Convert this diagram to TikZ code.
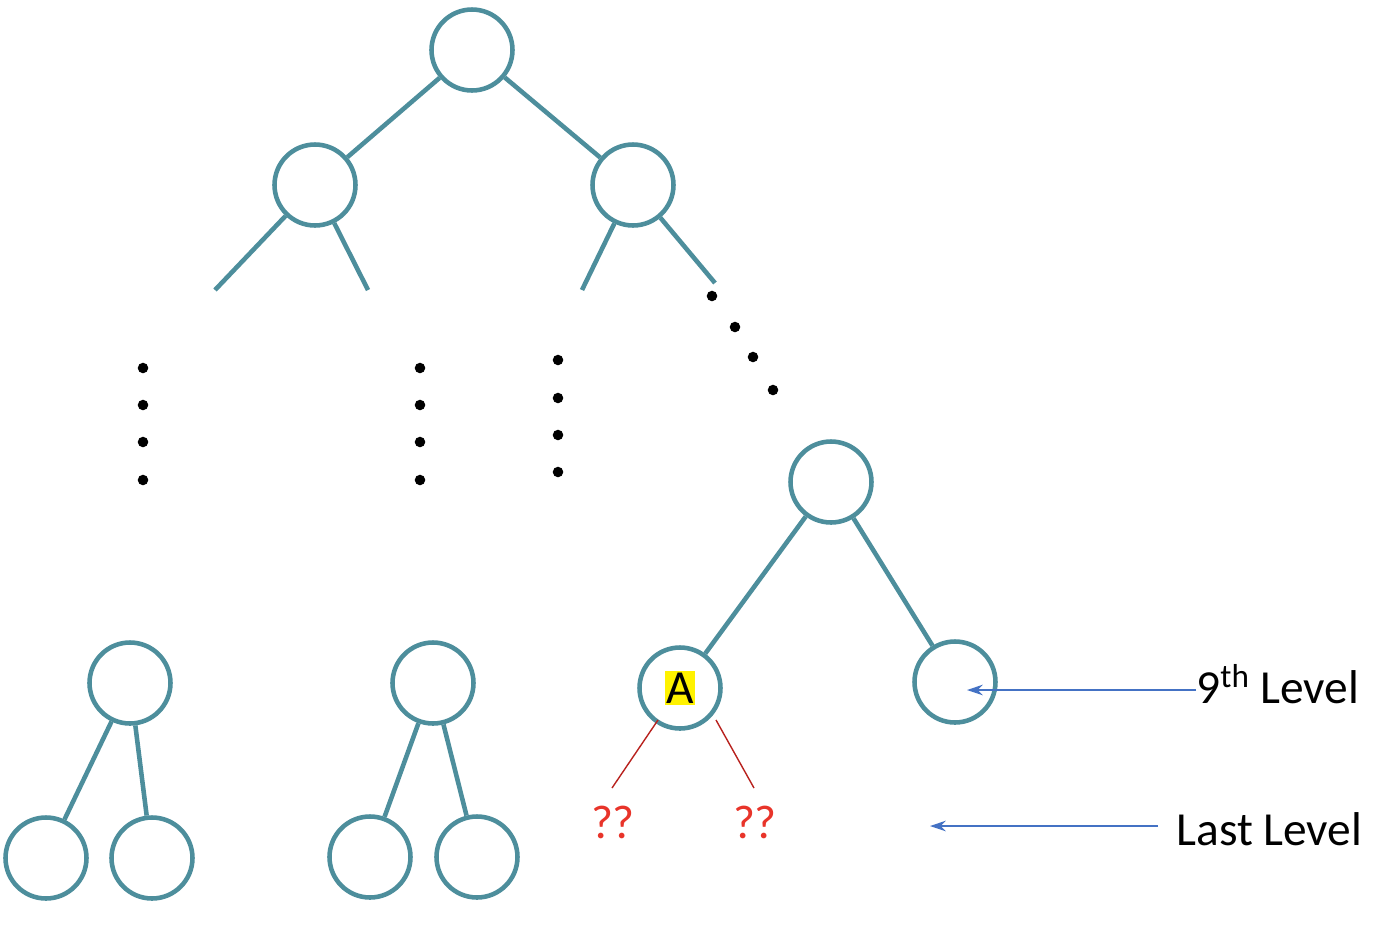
\documentclass[tikz,border=0pt]{standalone}
\usepackage{fontspec}
\setmainfont{Carlito}
\usetikzlibrary{arrows.meta}
\definecolor{teal1}{HTML}{4D8E9C}
\definecolor{blu}{HTML}{4472C4}
\definecolor{qred}{HTML}{E8342A}
\definecolor{lred}{HTML}{B8221E}
\begin{document}
\begin{tikzpicture}[x=0.02cm,y=-0.02cm,
  nd/.style={circle,draw=teal1,line width=2.6pt,minimum size=1.62cm,inner sep=0pt},
  ed/.style={teal1,line width=2.6pt},
  dt/.style={circle,fill=black,minimum size=6pt,inner sep=0pt},
  lab/.style={font=\fontsize{27}{32}\selectfont,inner sep=0pt},
  arr/.style={blu,line width=0.8pt,-{Stealth[length=9pt,width=6pt]}}]
\useasboundingbox (0,0) rectangle (1374,934);
\node[nd] (root) at (472,50) {};
\node[nd] (L) at (315,185) {};
\node[nd] (R) at (633,185) {};
\node[nd] (M) at (831,482) {};
\node[nd] (A) at (680,688) {};
\node[nd] (N9) at (955,682) {};
\node[nd] (B1) at (130,683) {};
\node[nd] (B2) at (433,683) {};
\node[nd] (l1) at (46,858) {};
\node[nd] (l2) at (152,858) {};
\node[nd] (l3) at (370,857) {};
\node[nd] (l4) at (477,857) {};
\node[lab,fill=yellow,inner sep=1pt] (At) at (680,688) {A};
\draw[ed] (root)--(L); \draw[ed] (root)--(R);
\coordinate (e1) at (215,290); \coordinate (e2) at (368,290);
\coordinate (e3) at (582,290); \coordinate (e4) at (715,283);
\draw[ed] (L)--(e1); \draw[ed] (L)--(e2);
\draw[ed] (R)--(e3); \draw[ed] (R)--(e4);
\draw[ed] (M)--(A); \draw[ed] (M)--(N9);
\draw[ed] (B1)--(l1); \draw[ed] (B1)--(l2);
\draw[ed] (B2)--(l3); \draw[ed] (B2)--(l4);
\foreach \y [count=\i] in {368,405,442,480}{\node[dt] (da\i) at (143,\y) {}; \node[dt] (db\i) at (420,\y) {};}
\foreach \y [count=\i] in {360,398,435,472}{\node[dt] (dc\i) at (558,\y) {};}
\foreach \x/\y [count=\i] in {712/296,735/327,753/357,773/390}{\node[dt] (dd\i) at (\x,\y) {};}
\node[lab,text=qred] (q1) at (613,822) {??};
\node[lab,text=qred] (q2) at (755,822) {??};
\coordinate (r1) at (658,720); \coordinate (r2) at (716,720);
\coordinate (s1) at (612,788); \coordinate (s2) at (754,788);
\draw[lred,line width=0.8pt] (r1)--(s1);
\draw[lred,line width=0.8pt] (r2)--(s2);
\node[lab,anchor=west] (t9) at (1196,684) {9\textsuperscript{th} Level};
\node[lab,anchor=west] (tl) at (1176,829) {Last Level};
\coordinate (a9) at (967,690); \coordinate (al) at (930,826);
\draw[arr] (t9.west|-a9)--(a9);
\draw[arr] (1158,826)--(al);
\end{tikzpicture}
\end{document}
